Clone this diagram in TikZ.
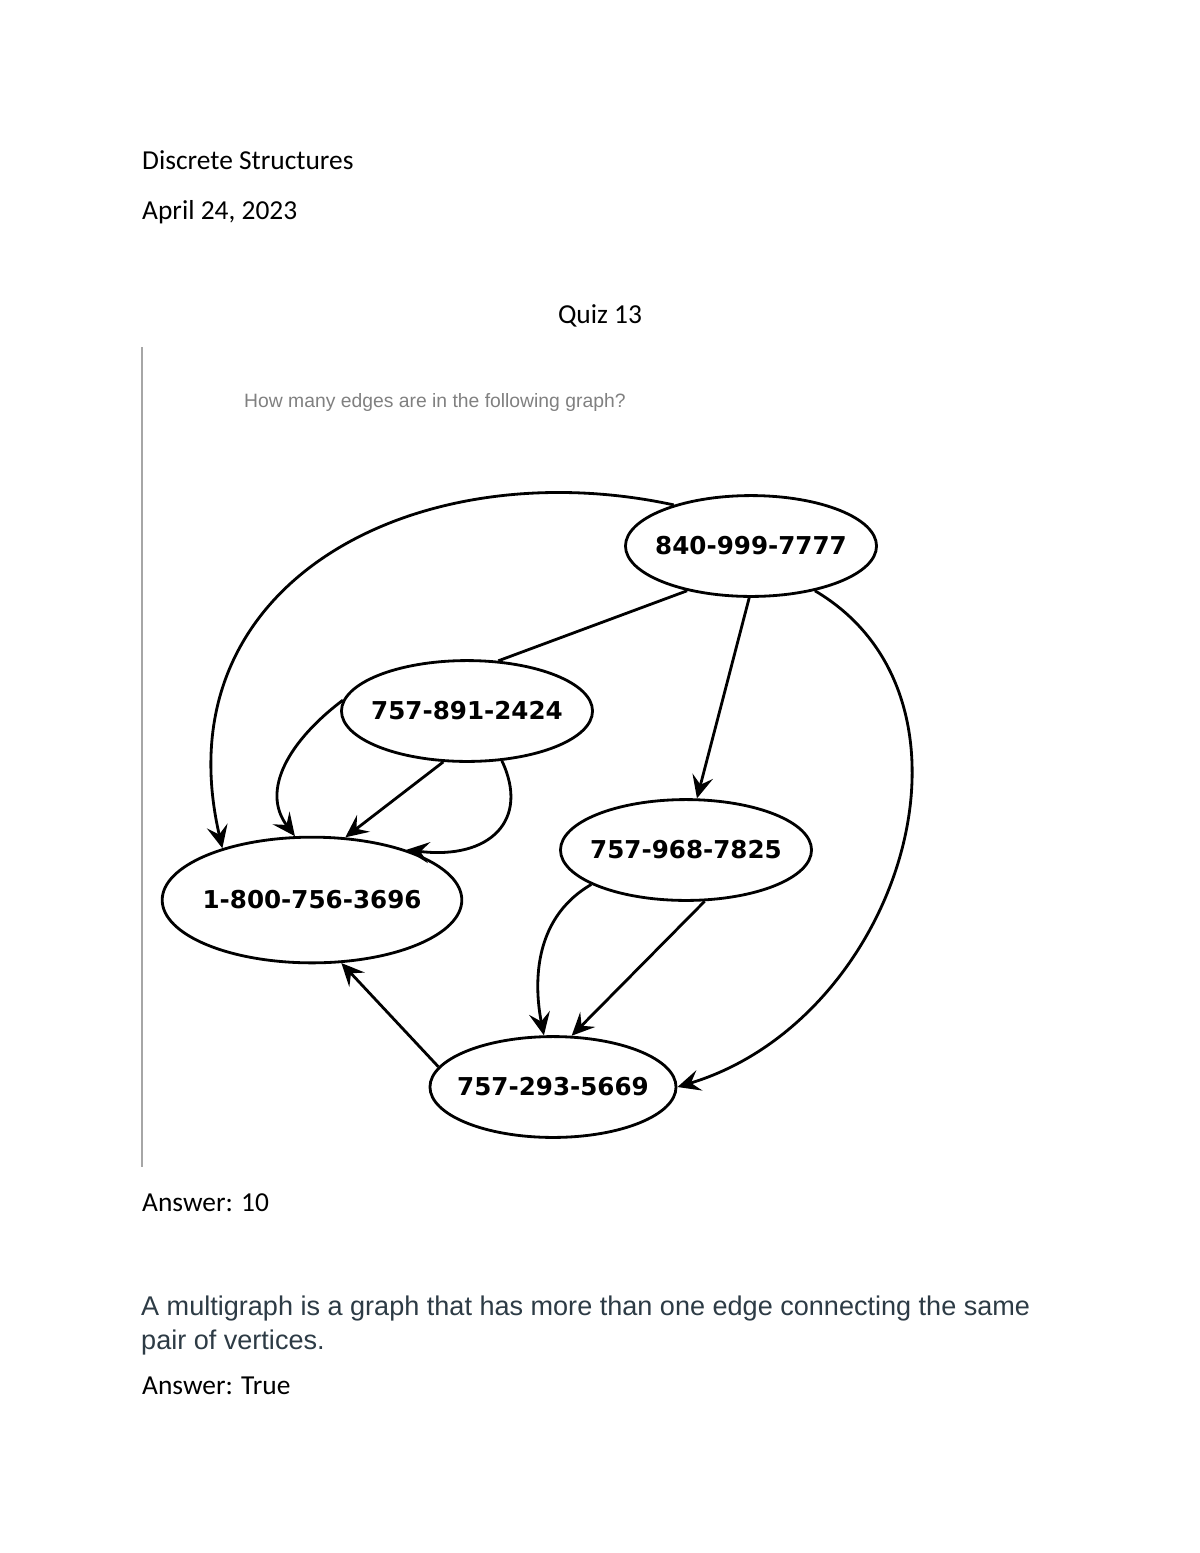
\documentclass[tikz,border=0pt]{standalone}
\usepackage{fontspec}
\setmainfont{Carlito}
\newfontfamily\nodefont{DejaVu Sans}
\newfontfamily\arialfont{Liberation Sans}
\usetikzlibrary{arrows.meta,shapes.geometric}
\definecolor{qtext}{HTML}{2D3B45}
\begin{document}
\begin{tikzpicture}[x=0.02cm,y=-0.02cm,
  vtx/.style={draw,line width=1.6pt,ellipse,inner xsep=-4pt,inner ysep=15pt,font=\nodefont\bfseries\fontsize{14}{16}\selectfont},
  edg/.style={line width=1.6pt,-{Stealth[length=13pt,width=12pt,inset=5pt]}},
  doc/.style={anchor=west,font=\fontsize{15.6}{18}\selectfont}]
\useasboundingbox (0,0) rectangle (1200,1553);
\node[doc] (t1) at (136,160) {Discrete Structures};
\node[doc] (t2) at (136,212) {April 24, 2023};
\node[doc,anchor=center] (t3) at (600,316) {Quiz 13};
\draw[gray!70,line width=0.8pt] (142,347) -- (142,1167);
\node[anchor=west,text=gray,font=\arialfont\fontsize{11}{13}\selectfont] (q) at (238,402) {How many edges are in the following graph?};
\path (751,546) node[vtx] (a) {840-999-7777};
\path (467,711) node[vtx] (b) {757-891-2424};
\path (312,900) node[vtx,inner xsep=-2pt,inner ysep=20pt] (c) {1-800-756-3696};
\path (686,850) node[vtx] (d) {757-968-7825};
\path (553,1087) node[vtx,inner xsep=-5pt] (e) {757-293-5669};
\draw[edg] (a.152) .. controls (420,450) and (160,580) .. (c.150);
\draw[line width=1.6pt] (a.215) -- (b.58);
\draw[edg] (a.268) -- (d.78);
\draw[edg] (a.325) .. controls (1000,700) and (900,1020) .. (e.east);
\draw[edg] (b.175) .. controls (290,740) and (260,790) .. (c.105);
\draw[edg] (b.245) -- (c.62);
\draw[edg] (b.305) .. controls (530,820) and (490,860) .. (c.28);
\draw[edg] (d.200) .. controls (530,920) and (535,990) .. (e.100);
\draw[edg] (d.290) -- (e.70);
\draw[edg] (e.170) -- (c.295);
\node[doc] (ans1) at (136,1203) {Answer: 10};
\node[anchor=north west,text=qtext,font=\arialfont\fontsize{15.4}{19}\selectfont,align=left] (m) at (135,1290) {A multigraph is a graph that has more than one edge connecting the same\\pair of vertices.};
\node[doc] (ans2) at (136,1386) {Answer: True};
\end{tikzpicture}
\end{document}
